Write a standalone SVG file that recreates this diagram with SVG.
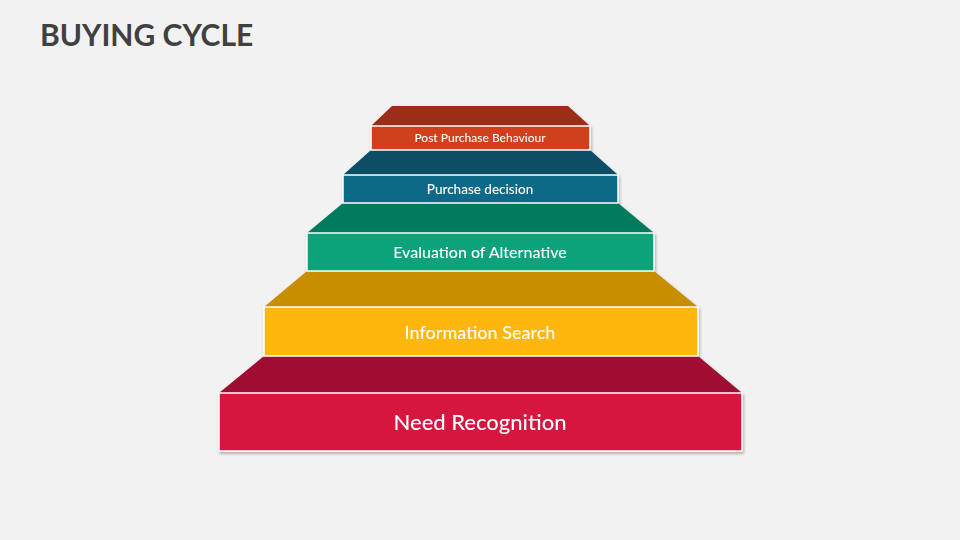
<svg xmlns="http://www.w3.org/2000/svg" width="960" height="540" viewBox="0 0 960 540">
<defs>
<style>
.t{font-family:Lato,"Liberation Sans",sans-serif;fill:#fff;text-anchor:middle;font-weight:500}
.f{stroke:#fff;stroke-width:1.5}
</style>
<filter id="sh" x="-5%" y="-5%" width="110%" height="115%"><feDropShadow dx="1" dy="2" stdDeviation="1.5" flood-color="#000" flood-opacity="0.3"/></filter>
</defs>
<rect width="960" height="540" fill="#f2f2f2"/>
<text x="40" y="46" style="font-family:Lato,'Liberation Sans',sans-serif;font-weight:bold;font-size:30px;fill:#404040">BUYING CYCLE</text>
<g filter="url(#sh)">
<g id="step5">
<polygon points="264,356 698,356 742,393 219,393" fill="#a00e31"/>
<rect class="f" x="219" y="393" width="523" height="58" fill="#d71440"/>
<text class="t" x="480" y="430" font-size="22">Need Recognition</text>
</g>
<g id="step4">
<polygon points="307,271 654,271 698,307 264,307" fill="#c98d00"/>
<rect class="f" x="264" y="307" width="434" height="49" fill="#ffb710"/>
<text class="t" x="480" y="339" font-size="18">Information Search</text>
</g>
<g id="step3">
<polygon points="343,203 618,203 654,233 307,233" fill="#067a5b"/>
<rect class="f" x="307" y="233" width="347" height="38" fill="#08a37a"/>
<text class="t" x="480" y="258" font-size="16">Evaluation of Alternative</text>
</g>
<g id="step2">
<polygon points="371,150 590,150 618,175 343,175" fill="#0b4e66"/>
<rect class="f" x="343" y="175" width="275" height="28" fill="#106a87"/>
<text class="t" x="480" y="194" font-size="13.5">Purchase decision</text>
</g>
<g id="step1">
<polygon points="392,106 568,106 590,126 371,126" fill="#9a2d16"/>
<rect class="f" x="371" y="126" width="219" height="24" fill="#d0411c"/>
<text class="t" x="480" y="142" font-size="12">Post Purchase Behaviour</text>
</g>
</g>
<g id="connectors"/>
</svg>
